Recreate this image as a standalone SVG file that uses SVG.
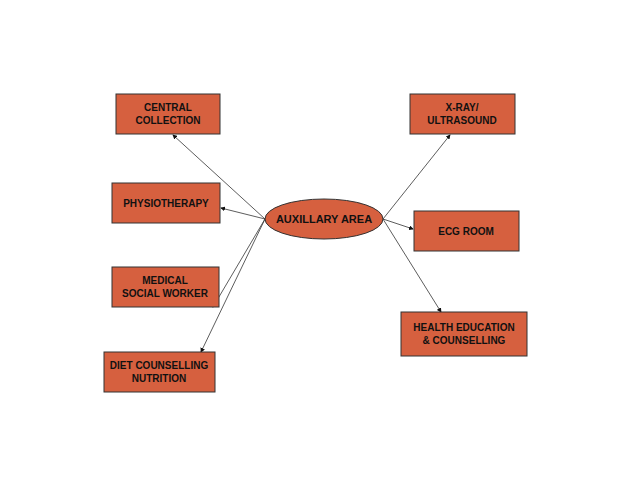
<svg xmlns="http://www.w3.org/2000/svg" width="638" height="478" viewBox="0 0 638 478">
<defs><marker id="a" markerWidth="6" markerHeight="6" refX="5" refY="3" orient="auto"><path d="M0,0L6,3L0,6z" fill="#111"/></marker>
<style>.b{fill:#d6603f;stroke:#333;stroke-width:1}.t{font-family:"Liberation Sans",Arial,sans-serif;font-weight:bold;font-size:10px;fill:#111;text-anchor:middle}.c line{stroke:#333;stroke-width:0.8;marker-end:url(#a)}</style></defs>
<rect width="638" height="478" fill="#fff"/>
<g class="c">
<line x1="265" y1="219" x2="173" y2="135"/>
<line x1="265" y1="219" x2="221" y2="208"/>
<line x1="265" y1="219" x2="213" y2="307"/>
<line x1="265" y1="219" x2="201" y2="352"/>
<line x1="383" y1="219" x2="450" y2="135"/>
<line x1="383" y1="219" x2="413" y2="229"/>
<line x1="383" y1="219" x2="441" y2="312"/>
</g>
<g id="n1"><rect class="b" x="116" y="94" width="104" height="40"/><text class="t" x="168" y="111">CENTRAL</text><text class="t" x="168" y="124">COLLECTION</text></g>
<g id="n2"><rect class="b" x="112" y="183" width="108" height="40"/><text class="t" x="166" y="207">PHYSIOTHERAPY</text></g>
<g id="n3"><rect class="b" x="112" y="267" width="107" height="40"/><text class="t" x="165" y="284">MEDICAL</text><text class="t" x="165" y="297">SOCIAL WORKER</text></g>
<g id="n4"><rect class="b" x="104" y="352" width="111" height="40"/><text class="t" x="159" y="369">DIET COUNSELLING</text><text class="t" x="159" y="382">NUTRITION</text></g>
<g id="c"><ellipse class="b" cx="324" cy="219" rx="59" ry="20"/><text class="t" x="324" y="223" style="font-size:11px">AUXILLARY AREA</text></g>
<g id="n5"><rect class="b" x="410" y="94" width="105" height="40"/><text class="t" x="462" y="111">X-RAY/</text><text class="t" x="462" y="124">ULTRASOUND</text></g>
<g id="n6"><rect class="b" x="414" y="211" width="105" height="40"/><text class="t" x="466" y="235">ECG ROOM</text></g>
<g id="n7"><rect class="b" x="401" y="312" width="126" height="44"/><text class="t" x="464" y="331">HEALTH EDUCATION</text><text class="t" x="464" y="344">&amp; COUNSELLING</text></g>
</svg>
